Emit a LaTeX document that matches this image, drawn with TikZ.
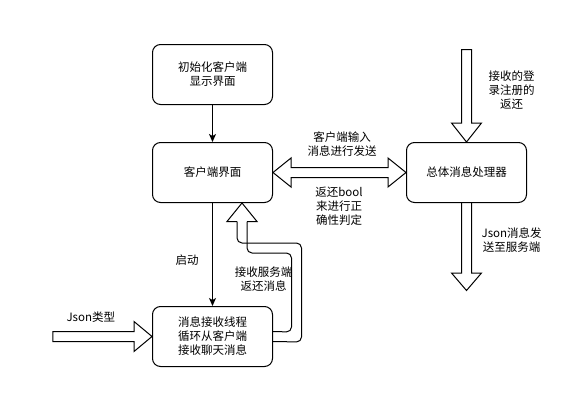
\documentclass[tikz,border=0pt]{standalone}
\usepackage{fontspec}
\setmainfont{Noto Sans CJK SC}
\usetikzlibrary{calc,arrows.meta}
\tikzset{
  box/.style={draw, rounded corners=8pt, minimum width=120pt, minimum height=60pt, inner sep=0pt, align=center, line width=1pt, font=\fontsize{11.5pt}{14pt}\selectfont},
  lbl/.style={align=center, inner sep=0pt, font=\fontsize{11.5pt}{14pt}\selectfont},
  conn/.style={draw, line width=1pt, -{Stealth[length=8pt,width=7pt,inset=2pt]}},
  flex/.style={draw, line width=1pt, line join=miter},
}
\begin{document}
\begin{tikzpicture}[x=1pt,y=-1pt]
\useasboundingbox (0,0) rectangle (587,402);
% boxes
\node[box] (b1) at (212.5,74.5) {初始化客户端\\显示界面};
\node[box] (b2) at (212.5,172.5) {客户端界面};
\node[box] (b3) at (466.5,172.5) {总体消息处理器};
\node[box] (b4) at (212.5,336.5) {消息接收线程\\循环从客户端\\接收聊天消息};
% plain connectors
\draw[conn] (b1.south) -- (b2.north);
\draw[conn] (b2.south) -- (b4.north);
% double flex arrow b2 <-> b3
\draw[flex] (b2.east) -- ++(18,-14.5) -- ++(0,9.5) -- ($(b3.west)+(-18,-5)$) -- ++(0,-9.5) -- (b3.west) -- ++(-18,14.5) -- ++(0,-9.5) -- ($(b2.east)+(18,5)$) -- ++(0,9.5) -- cycle;
% arrow into b3 from top
\coordinate (t3) at ($(b3.north)+(0,-92.5)$);
\draw[flex] ($(t3)+(-5,0)$) -- ($(b3.north)+(-5,-19)$) -- ++(-10,0) -- (b3.north) -- ++(15,-19) -- ++(-10,0) -- ($(t3)+(5,0)$) -- cycle;
% arrow out of b3 bottom
\coordinate (e3) at ($(b3.south)+(0,87.5)$);
\draw[flex] ($(b3.south)+(-5,0)$) -- ($(e3)+(-5,-17.5)$) -- ++(-10,0) -- (e3) -- ++(15,-17.5) -- ++(-10,0) -- ($(b3.south)+(5,0)$);
% Json arrow into b4
\coordinate (js) at ($(b4.west)+(-99.2,0)$);
\draw[flex] ($(js)+(0,-5)$) -- ($(b4.west)+(-18,-5)$) -- ++(0,-10) -- (b4.west) -- ++(-18,15) -- ++(0,-10) -- ($(js)+(0,5)$) -- cycle;
% bent arrow from b4 to b2
\coordinate (hb) at ($(b2.south)+(29.5,18.5)$);
\coordinate (tp) at ($(b2.south)+(29.5,0)$);
\draw[flex, rounded corners=5pt] ($(hb)+(-5,0)$) -- ++(0,21.5) -- ++(64.5,0) -- ++(0,99) -- ($(b4.east)+(0,5)$);
\draw[flex, rounded corners=5pt] ($(hb)+(5,0)$) -- ++(0,31.5) -- ++(44.5,0) -- ++(0,79) -- ($(b4.east)+(0,-5)$);
\draw[flex] ($(hb)+(-5,0)$) -- ++(-10,0) -- (tp) -- ($(hb)+(15,0)$) -- ++(-10,0);
% labels
\node[lbl] (l1) at (342,144) {客户端输入\\消息进行发送};
\node[lbl] (l2) at (339,206.5) {返还bool\\来进行正\\确性判定};
\node[lbl] (l3) at (187,260) {启动};
\node[lbl] (l4) at (263.5,278.7) {接收服务端\\返还消息};
\node[lbl] (l5) at (90.8,316.7) {Json类型};
\node[lbl] (l6) at (511.7,90.5) {接收的登\\录注册的\\返还};
\node[lbl] (l7) at (511.7,240) {Json消息发\\送至服务端};
\end{tikzpicture}
\end{document}
